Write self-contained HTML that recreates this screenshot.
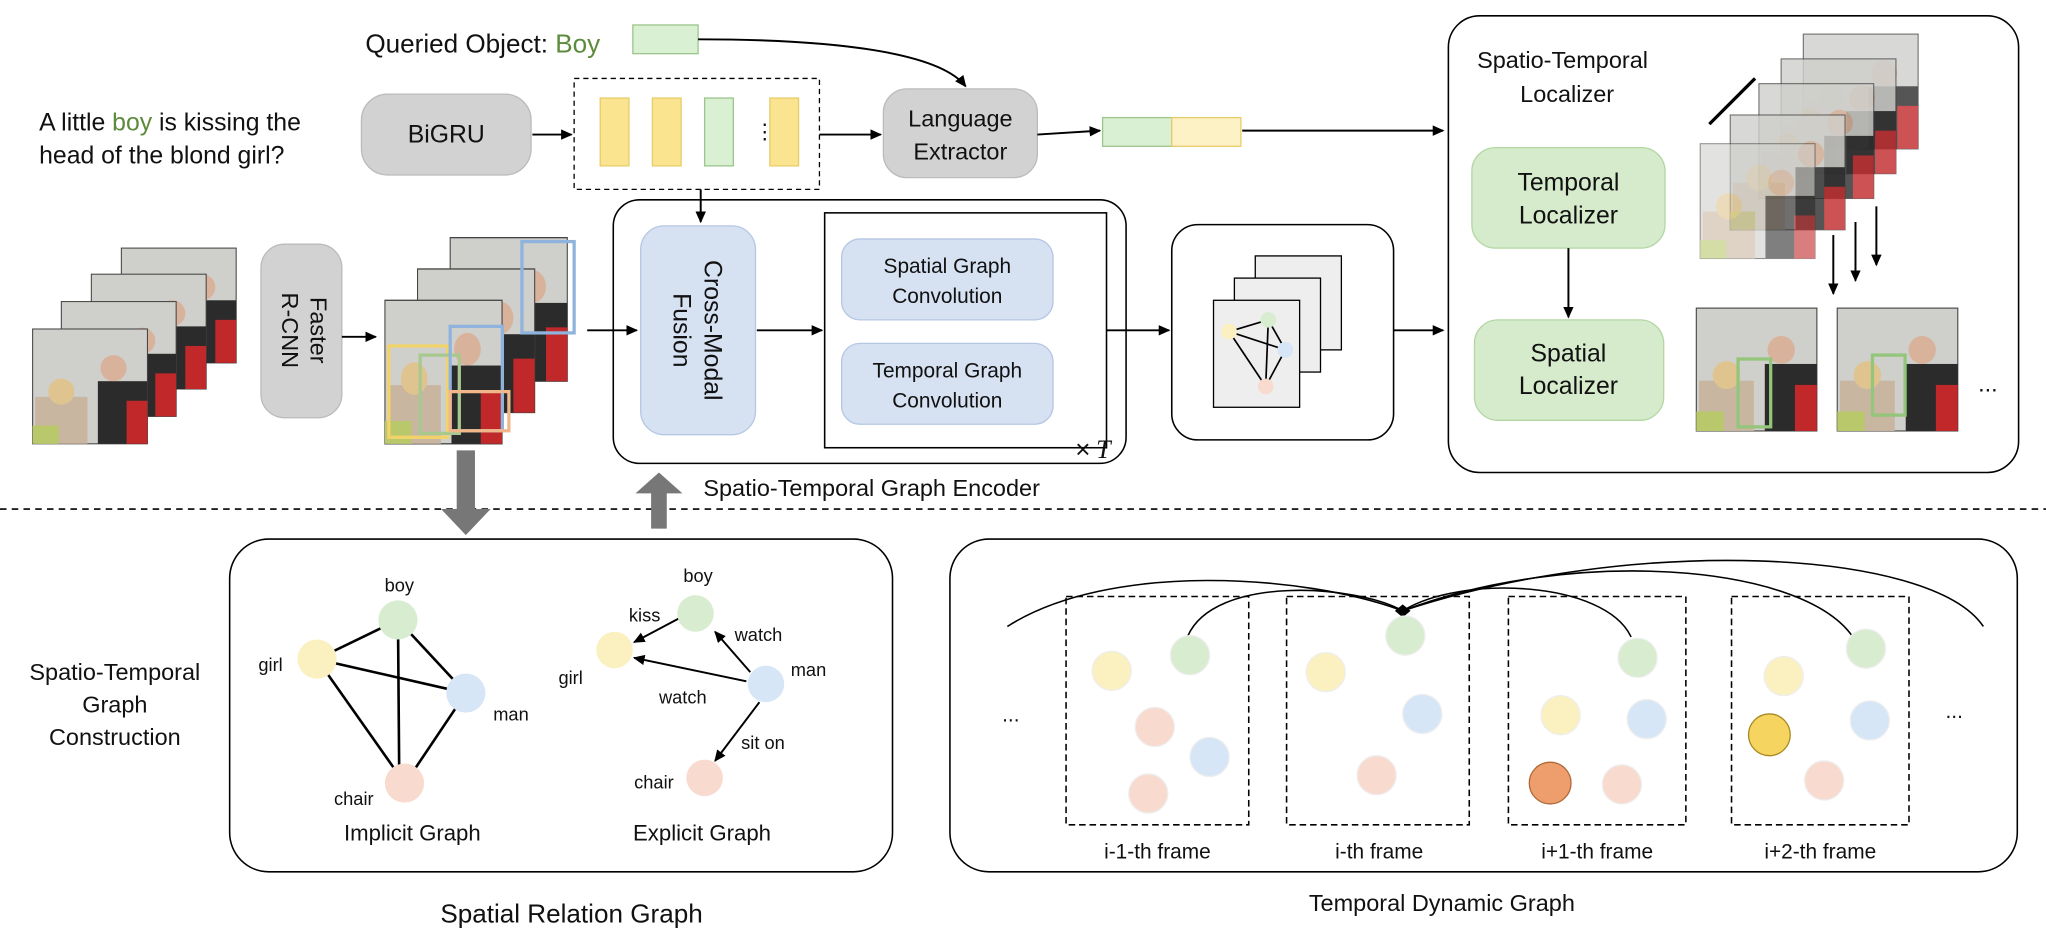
<!DOCTYPE html>
<html><head><meta charset="utf-8"><style>
html,body{margin:0;padding:0;background:#fff}
svg{display:block}
text{font-family:"Liberation Sans",sans-serif;fill:#111}
</style></head><body>
<svg width="2046" height="932" viewBox="0 0 1568 714" xmlns="http://www.w3.org/2000/svg">
<defs>
<marker id="a" markerWidth="10" markerHeight="10" refX="8" refY="5" orient="auto" markerUnits="userSpaceOnUse"><path d="M0,1 L9,5 L0,9 z" fill="#000"/></marker>
<g id="photo">
<rect width="88" height="88" fill="#cfcfcc" stroke="#444" stroke-width="0.8"/>
<rect x="50" y="40" width="38" height="48" fill="#2b2b2b"/>
<circle cx="62" cy="30" r="10" fill="#d8b29a"/>
<rect x="72" y="55" width="16" height="33" fill="#c0282a"/>
<rect x="2" y="52" width="40" height="36" fill="#c9b6a0"/>
<circle cx="22" cy="48" r="10" fill="#e0c48f"/>
<rect x="0" y="74" width="20" height="14" fill="#b9c86a"/>
</g>
</defs>

<text x="280" y="40" font-size="20">Queried Object: <tspan style="fill:#5e8b3b">Boy</tspan></text>
<rect x="485" y="19" width="50" height="22" fill="#d9f0d3" stroke="#9bc58d"/>
<path d="M535,30 C640,30 720,40 740,66" fill="none" stroke="#000" stroke-width="1.5" marker-end="url(#a)"/>
<text x="30" y="100" font-size="19">A little <tspan style="fill:#5e8b3b">boy</tspan> is kissing the</text>
<text x="30" y="125" font-size="19">head of the blond girl?</text>
<rect x="277" y="72" width="130" height="62" rx="20" fill="#d2d2d2" stroke="#bbb"/>
<text x="342" y="109" font-size="19" text-anchor="middle">BiGRU</text>
<line x1="408" y1="103" x2="438" y2="103" stroke="#000" stroke-width="1.5" marker-end="url(#a)"/>
<rect x="440" y="60" width="188" height="85" fill="none" stroke="#000" stroke-dasharray="4,3"/>
<rect x="460" y="75" width="22" height="52" fill="#fbe48f" stroke="#e9cc6a"/>
<rect x="500" y="75" width="22" height="52" fill="#fbe48f" stroke="#e9cc6a"/>
<rect x="540" y="75" width="22" height="52" fill="#d9f0d3" stroke="#9bc58d"/>
<text x="578" y="106" font-size="16">⋮</text>
<rect x="590" y="75" width="22" height="52" fill="#fbe48f" stroke="#e9cc6a"/>
<line x1="628" y1="103" x2="675" y2="103" stroke="#000" stroke-width="1.5" marker-end="url(#a)"/>
<rect x="677" y="68" width="118" height="68" rx="18" fill="#d2d2d2" stroke="#bbb"/>
<text x="736" y="97" font-size="18" text-anchor="middle">Language</text>
<text x="736" y="122" font-size="18" text-anchor="middle">Extractor</text>
<line x1="795" y1="103" x2="843" y2="100" stroke="#000" stroke-width="1.5" marker-end="url(#a)"/>
<rect x="845" y="90" width="53" height="22" fill="#d9f0d3" stroke="#9bc58d"/>
<rect x="898" y="90" width="53" height="22" fill="#fdf1c6" stroke="#e9cc6a"/>
<line x1="952" y1="100" x2="1106" y2="100" stroke="#000" stroke-width="1.5" marker-end="url(#a)"/>
<line x1="537" y1="145" x2="537" y2="170" stroke="#000" stroke-width="1.5" marker-end="url(#a)"/>

<use href="#photo" x="93" y="190"/>
<use href="#photo" x="70" y="210"/>
<use href="#photo" x="47" y="231"/>
<use href="#photo" x="25" y="252"/>
<rect x="200" y="187" width="62" height="133" rx="18" fill="#d2d2d2" stroke="#bbb"/>
<text transform="translate(238,253) rotate(90)" font-size="18" text-anchor="middle">Faster</text>
<text transform="translate(216,253) rotate(90)" font-size="18" text-anchor="middle">R-CNN</text>
<line x1="262" y1="258" x2="288" y2="258" stroke="#000" stroke-width="1.5" marker-end="url(#a)"/>
<g transform="translate(345,182) scale(1.02,1.25)"><use href="#photo"/></g>
<g transform="translate(320,206) scale(1.02,1.25)"><use href="#photo"/></g>
<g transform="translate(295,230) scale(1.02,1.25)"><use href="#photo"/></g>
<rect x="298" y="265" width="45" height="70" fill="none" stroke="#f2d36a" stroke-width="2.5"/>
<rect x="322" y="272" width="30" height="60" fill="none" stroke="#a8c98e" stroke-width="2.5"/>
<rect x="345" y="250" width="40" height="80" fill="none" stroke="#8fb3dd" stroke-width="2.5"/>
<rect x="345" y="300" width="45" height="30" fill="none" stroke="#f0b88a" stroke-width="2.5"/>
<rect x="400" y="185" width="40" height="70" fill="none" stroke="#8fb3dd" stroke-width="2.5"/>
<line x1="450" y1="253" x2="488" y2="253" stroke="#000" stroke-width="1.5" marker-end="url(#a)"/>

<rect x="470" y="153" width="393" height="202" rx="20" fill="none" stroke="#000" stroke-width="1.2"/>
<rect x="491" y="173" width="88" height="160" rx="18" fill="#d6e1f2" stroke="#b5c7e3"/>
<text transform="translate(540,253) rotate(90)" font-size="19" text-anchor="middle">Cross-Modal</text>
<text transform="translate(516,253) rotate(90)" font-size="19" text-anchor="middle">Fusion</text>
<line x1="580" y1="253" x2="630" y2="253" stroke="#000" stroke-width="1.5" marker-end="url(#a)"/>
<rect x="632" y="163" width="216" height="180" fill="none" stroke="#000" stroke-width="1.2"/>
<rect x="645" y="183" width="162" height="62" rx="14" fill="#d6e1f2" stroke="#b5c7e3"/>
<text x="726" y="209" font-size="16" text-anchor="middle">Spatial Graph</text>
<text x="726" y="232" font-size="16" text-anchor="middle">Convolution</text>
<rect x="645" y="263" width="162" height="62" rx="14" fill="#d6e1f2" stroke="#b5c7e3"/>
<text x="726" y="289" font-size="16" text-anchor="middle">Temporal Graph</text>
<text x="726" y="312" font-size="16" text-anchor="middle">Convolution</text>
<text x="824" y="351" font-size="20">×</text><text x="840" y="351" font-size="20" font-style="italic" style="font-family:'Liberation Serif',serif">T</text>
<text x="668" y="380" font-size="18" text-anchor="middle">Spatio-Temporal Graph Encoder</text>
<line x1="848" y1="253" x2="896" y2="253" stroke="#000" stroke-width="1.5" marker-end="url(#a)"/>
<rect x="898" y="172" width="170" height="165" rx="20" fill="none" stroke="#000" stroke-width="1.2"/>
<rect x="962" y="196" width="66" height="72" fill="#eee" stroke="#000"/>
<rect x="946" y="213" width="66" height="72" fill="#eee" stroke="#000"/>
<rect x="930" y="230" width="66" height="82" fill="#eee" stroke="#000"/>
<g stroke="#000" stroke-width="1.3"><line x1="942" y1="254" x2="972" y2="245"/><line x1="942" y1="254" x2="985" y2="268"/><line x1="942" y1="254" x2="970" y2="296"/><line x1="972" y1="245" x2="970" y2="296"/><line x1="972" y1="245" x2="985" y2="268"/><line x1="985" y1="268" x2="970" y2="296"/></g>
<circle cx="942" cy="254" r="6" fill="#fbf0c0"/><circle cx="972" cy="245" r="6" fill="#d8eccf"/><circle cx="985" cy="268" r="6" fill="#d6e6f6"/><circle cx="970" cy="296" r="6" fill="#f8dacf"/>
<line x1="1068" y1="253" x2="1106" y2="253" stroke="#000" stroke-width="1.5" marker-end="url(#a)"/>

<rect x="1110" y="12" width="437" height="350" rx="24" fill="none" stroke="#000" stroke-width="1.2"/>
<text x="1132" y="52" font-size="18">Spatio-Temporal</text>
<text x="1165" y="78" font-size="18">Localizer</text>
<rect x="1128" y="113" width="148" height="77" rx="18" fill="#d5ebcc" stroke="#b3d6a3"/>
<text x="1202" y="146" font-size="19" text-anchor="middle">Temporal</text>
<text x="1202" y="171" font-size="19" text-anchor="middle">Localizer</text>
<line x1="1202" y1="190" x2="1202" y2="243" stroke="#000" stroke-width="1.5" marker-end="url(#a)"/>
<rect x="1130" y="245" width="145" height="77" rx="18" fill="#d5ebcc" stroke="#b3d6a3"/>
<text x="1202" y="277" font-size="19" text-anchor="middle">Spatial</text>
<text x="1202" y="302" font-size="19" text-anchor="middle">Localizer</text>
<line x1="1310" y1="95" x2="1345" y2="60" stroke="#000" stroke-width="2.5"/>
<g opacity="0.8"><use href="#photo" x="1382" y="26"/></g>
<g opacity="0.8"><use href="#photo" x="1365" y="45"/></g>
<g opacity="0.8"><use href="#photo" x="1348" y="64"/></g>
<g opacity="0.8"><use href="#photo" x="1326" y="88"/></g>
<g opacity="0.6"><use href="#photo" x="1303" y="110"/></g>
<line x1="1405" y1="180" x2="1405" y2="225" stroke="#000" stroke-width="1.5" marker-end="url(#a)"/>
<line x1="1422" y1="170" x2="1422" y2="215" stroke="#000" stroke-width="1.5" marker-end="url(#a)"/>
<line x1="1438" y1="158" x2="1438" y2="203" stroke="#000" stroke-width="1.5" marker-end="url(#a)"/>
<g transform="translate(1300,236) scale(1.05,1.07)"><use href="#photo"/></g>
<g transform="translate(1408,236) scale(1.05,1.07)"><use href="#photo"/></g>
<rect x="1332" y="275" width="25" height="52" fill="none" stroke="#93c57a" stroke-width="2.5"/>
<rect x="1435" y="272" width="25" height="46" fill="none" stroke="#93c57a" stroke-width="2.5"/>
<text x="1516" y="300" font-size="18">...</text>

<line x1="0" y1="390" x2="1568" y2="390" stroke="#000" stroke-dasharray="5,4" stroke-width="1.2"/>
<path d="M350,345 L364,345 L364,390 L376,390 L357,410 L338,390 L350,390 z" fill="#777"/>
<path d="M499,405 L511,405 L511,378 L523,378 L505,362 L487,378 L499,378 z" fill="#777"/>

<text x="88" y="521" font-size="18" text-anchor="middle">Spatio-Temporal</text>
<text x="88" y="546" font-size="18" text-anchor="middle">Graph</text>
<text x="88" y="571" font-size="18" text-anchor="middle">Construction</text>
<rect x="176" y="413" width="508" height="255" rx="30" fill="none" stroke="#000" stroke-width="1.2"/>
<g stroke="#000" stroke-width="2">
<line x1="243" y1="505" x2="305" y2="475"/><line x1="243" y1="505" x2="357" y2="531"/><line x1="243" y1="505" x2="310" y2="600"/>
<line x1="305" y1="475" x2="357" y2="531"/><line x1="305" y1="475" x2="306" y2="600"/><line x1="357" y1="531" x2="312" y2="598"/>
</g>
<circle cx="243" cy="505" r="15" fill="#fbf0c0"/><circle cx="305" cy="475" r="15" fill="#d8eccf"/><circle cx="357" cy="531" r="15" fill="#d6e6f6"/><circle cx="310" cy="600" r="15" fill="#f8dacf"/>
<text x="306" y="453" font-size="14" text-anchor="middle">boy</text>
<text x="198" y="514" font-size="14">girl</text>
<text x="378" y="552" font-size="14">man</text>
<text x="256" y="617" font-size="14">chair</text>
<text x="316" y="644" font-size="17" text-anchor="middle">Implicit Graph</text>
<g stroke="#000" stroke-width="1.5" fill="none">
<line x1="520" y1="474" x2="486" y2="492" marker-end="url(#a)"/>
<line x1="575" y1="515" x2="548" y2="484" marker-end="url(#a)"/>
<line x1="572" y1="522" x2="486" y2="504" marker-end="url(#a)"/>
<line x1="582" y1="538" x2="548" y2="583" marker-end="url(#a)"/>
</g>
<circle cx="471" cy="498" r="14" fill="#fbf0c0"/><circle cx="533" cy="470" r="14" fill="#d8eccf"/><circle cx="587" cy="524" r="14" fill="#d6e6f6"/><circle cx="540" cy="596" r="14" fill="#f8dacf"/>
<text x="535" y="446" font-size="14" text-anchor="middle">boy</text>
<text x="482" y="476" font-size="14">kiss</text>
<text x="563" y="491" font-size="14">watch</text>
<text x="428" y="524" font-size="14">girl</text>
<text x="606" y="518" font-size="14">man</text>
<text x="505" y="539" font-size="14">watch</text>
<text x="568" y="574" font-size="14">sit on</text>
<text x="486" y="604" font-size="14">chair</text>
<text x="538" y="644" font-size="17" text-anchor="middle">Explicit Graph</text>
<text x="438" y="707" font-size="20" text-anchor="middle">Spatial Relation Graph</text>

<rect x="728" y="413" width="818" height="255" rx="30" fill="none" stroke="#000" stroke-width="1.2"/>
<g fill="none" stroke="#000" stroke-width="1.2">
<path d="M772,480 C850,430 1000,440 1075,468"/>
<path d="M910,488 C930,440 1040,448 1075,468"/>
<path d="M1075,468 C1120,440 1230,445 1250,488"/>
<path d="M1075,468 C1200,420 1380,430 1420,488"/>
<path d="M1075,468 C1250,410 1480,420 1520,480"/>
</g>
<path d="M1069,468 L1075,463 L1081,468 L1075,473 z" fill="#000"/>
<g fill="none" stroke="#000" stroke-dasharray="5,3" stroke-width="1.2">
<rect x="817" y="457" width="140" height="175"/><rect x="986" y="457" width="140" height="175"/>
<rect x="1156" y="457" width="136" height="175"/><rect x="1327" y="457" width="136" height="175"/>
</g>
<g stroke="#eee">
<circle cx="852" cy="514" r="15" fill="#fbf0c0"/><circle cx="912" cy="502" r="15" fill="#d8eccf"/><circle cx="885" cy="557" r="15" fill="#f8dacf"/><circle cx="927" cy="580" r="15" fill="#d6e6f6"/><circle cx="880" cy="608" r="15" fill="#f8dacf"/>
<circle cx="1016" cy="515" r="15" fill="#fbf0c0"/><circle cx="1077" cy="487" r="15" fill="#d8eccf"/><circle cx="1090" cy="547" r="15" fill="#d6e6f6"/><circle cx="1055" cy="594" r="15" fill="#f8dacf"/>
<circle cx="1255" cy="504" r="15" fill="#d8eccf"/><circle cx="1196" cy="548" r="15" fill="#fbf0c0"/><circle cx="1262" cy="551" r="15" fill="#d6e6f6"/><circle cx="1243" cy="601" r="15" fill="#f8dacf"/>
<circle cx="1430" cy="497" r="15" fill="#d8eccf"/><circle cx="1367" cy="518" r="15" fill="#fbf0c0"/><circle cx="1433" cy="552" r="15" fill="#d6e6f6"/><circle cx="1398" cy="598" r="15" fill="#f8dacf"/>
</g>
<circle cx="1188" cy="600" r="16" fill="#ee9d6d" stroke="#b06a3a"/>
<circle cx="1356" cy="563" r="16" fill="#f5d460" stroke="#a88a20"/>
<text x="768" y="553" font-size="16">...</text>
<text x="1491" y="550" font-size="16">...</text>
<text x="887" y="658" font-size="16" text-anchor="middle">i-1-th frame</text>
<text x="1057" y="658" font-size="16" text-anchor="middle">i-th frame</text>
<text x="1224" y="658" font-size="16" text-anchor="middle">i+1-th frame</text>
<text x="1395" y="658" font-size="16" text-anchor="middle">i+2-th frame</text>
<text x="1105" y="698" font-size="18" text-anchor="middle">Temporal Dynamic Graph</text>
</svg>
</body></html>
